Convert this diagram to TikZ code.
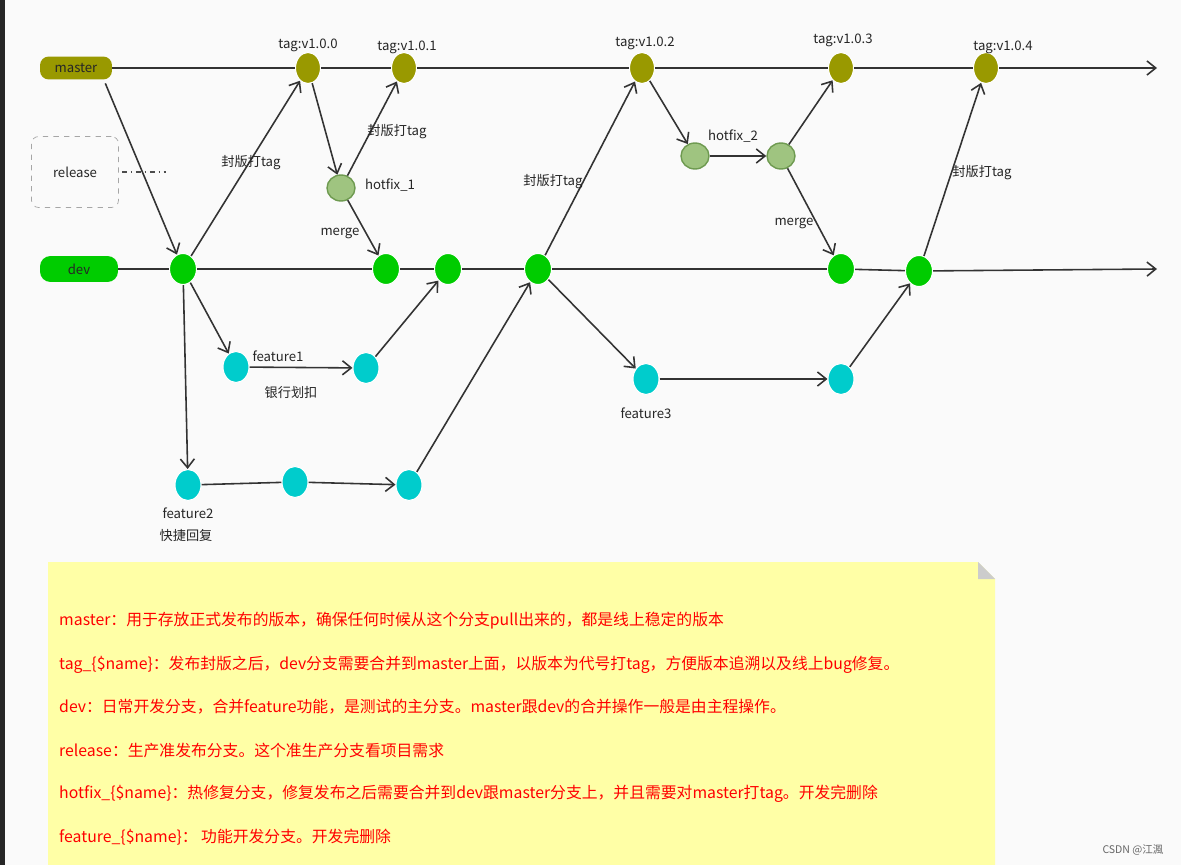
\documentclass[tikz,border=0pt]{standalone}
\usepackage{fontspec}
\setmainfont{Liberation Sans}
\newfontfamily\cjk{Noto Sans CJK SC}
\usetikzlibrary{arrows.meta,shapes.geometric}
\definecolor{olive}{HTML}{999900}
\definecolor{gr}{HTML}{00CC00}
\definecolor{cy}{HTML}{00CCCC}
\definecolor{hf}{HTML}{9FC480}
\definecolor{hfb}{HTML}{6E9A50}
\definecolor{note}{HTML}{FFFFA6}
\begin{document}
\begin{tikzpicture}[x=0.02cm,y=-0.02cm,
  lbl/.style={font=\cjk\fontsize{7.5}{9}\selectfont,text=black!85},
  mn/.style={draw=white,line width=0.6pt,fill=olive,minimum width=0.5cm,minimum height=0.62cm,shape=ellipse},
  dn/.style={draw=white,line width=0.6pt,fill=gr,minimum width=0.54cm,minimum height=0.62cm,shape=ellipse},
  fn/.style={draw=white,line width=0.6pt,fill=cy,minimum width=0.52cm,minimum height=0.62cm,shape=ellipse},
  hn/.style={draw=hfb,line width=0.8pt,fill=hf,minimum width=0.56cm,minimum height=0.52cm,shape=ellipse},
  ar/.style={draw=black!80,line width=0.9pt,-{Straight Barb[length=5pt,width=8pt]}},
  ln/.style={draw=black!80,line width=0.9pt},
  nt/.style={font=\cjk\fontsize{9}{11}\selectfont,text=red,anchor=west}]
\fill[black!85] (0,0) rectangle (1181,865);
\fill[black!2] (5,0) rectangle (1181,865);
\useasboundingbox (0,0) rectangle (1181,865);
% branch labels
\node[fill=olive,rounded corners=5pt,minimum width=1.44cm,minimum height=0.46cm,lbl] (master) at (76,68) {master};
\node[draw=black!35,dashed,rounded corners=4pt,minimum width=1.74cm,minimum height=1.42cm,lbl] (release) at (75,172) {release};
\node[fill=gr,rounded corners=6pt,minimum width=1.56cm,minimum height=0.52cm,lbl] (dev) at (79,269) {dev};
\coordinate (mend) at (1157,68);
\coordinate (dend) at (1157,269);
\coordinate (rs) at (122,172);
\coordinate (re) at (166,172);
\draw[ln,dash dot,black!70] (rs) -- (re);
% nodes
\node[mn] (m0) at (308,68) {};
\node[mn] (m1) at (404,68) {};
\node[mn] (m2) at (642,68) {};
\node[mn] (m3) at (841,68) {};
\node[mn] (m4) at (986,68) {};
\node[hn] (h1) at (341,188) {};
\node[hn] (h2a) at (695,156) {};
\node[hn] (h2b) at (781,156) {};
\node[dn] (d0) at (183,269) {};
\node[dn] (d1) at (386,269) {};
\node[dn] (d2) at (448,269) {};
\node[dn] (d3) at (538,269) {};
\node[dn] (d4) at (841,269) {};
\node[dn] (d5) at (919,271) {};
\node[fn] (f1a) at (236,367) {};
\node[fn] (f1b) at (366,368) {};
\node[fn] (f3a) at (646,379) {};
\node[fn] (f3b) at (841,379) {};
\node[fn] (f2a) at (188,485) {};
\node[fn] (f2b) at (295,482) {};
\node[fn] (f2c) at (409,485) {};
% main lines
\draw[ln] (master) -- (m0); \draw[ln] (m0) -- (m1); \draw[ln] (m1) -- (m2);
\draw[ln] (m2) -- (m3); \draw[ln] (m3) -- (m4); \draw[ar] (m4) -- (mend);
\draw[ln] (dev) -- (d0); \draw[ln] (d0) -- (d1); \draw[ln] (d1) -- (d2);
\draw[ln] (d2) -- (d3); \draw[ln] (d3) -- (d4); \draw[ln] (d4) -- (d5); \draw[ar] (d5) -- (dend);
% arrows
\draw[ar] ([xshift=-4pt,yshift=-2pt]master.south east) -- (d0);
\draw[ar] (d0) -- (m0);
\draw[ar] (m0) -- (h1);
\draw[ar] (h1) -- (m1);
\draw[ar] (h1) -- (d1);
\draw[ar] (d0) -- (f1a);
\draw[ar] (f1a) -- (f1b);
\draw[ar] (f1b) -- (d2);
\draw[ar] (d0) -- (f2a);
\draw[ln] (f2a) -- (f2b);
\draw[ar] (f2b) -- (f2c);
\draw[ar] (f2c) -- (d3);
\draw[ar] (d3) -- (m2);
\draw[ar] (m2) -- (h2a);
\draw[ar] (h2a) -- (h2b);
\draw[ar] (h2b) -- (m3);
\draw[ar] (h2b) -- (d4);
\draw[ar] (d3) -- (f3a);
\draw[ar] (f3a) -- (f3b);
\draw[ar] (f3b) -- (d5);
\draw[ar] (d5) -- (m4);
% labels
\node[lbl] (t0) at (308,45) {tag:v1.0.0};
\node[lbl] (t1) at (407,47) {tag:v1.0.1};
\node[lbl] (t2) at (645,43) {tag:v1.0.2};
\node[lbl] (t3) at (843,40) {tag:v1.0.3};
\node[lbl] (t4) at (1003,47) {tag:v1.0.4};
\node[lbl] (l1) at (251,163) {封版打tag};
\node[lbl] (l2) at (397,132) {封版打tag};
\node[lbl] (l3) at (553,182) {封版打tag};
\node[lbl] (l4) at (982,173) {封版打tag};
\node[lbl] (l5) at (390,185) {hotfix\_1};
\node[lbl] (l6) at (340,233) {merge};
\node[lbl] (l7) at (733,136) {hotfix\_2};
\node[lbl] (l8) at (794,223) {merge};
\node[lbl] (l9) at (278,356) {feature1};
\node[lbl] (l10) at (291,393) {银行划扣};
\node[lbl] (l11) at (646,413) {feature3};
\node[lbl] (l12) at (188,513) {feature2};
\node[lbl] (l13) at (186,536) {快捷回复};
% note
\fill[note] (48,562) -- (978,562) -- (995,579) -- (995,865) -- (48,865) -- cycle;
\fill[black!20] (978,562) -- (995,579) -- (978,579) -- cycle;
\node[nt] (n1) at (53,621) {master：用于存放正式发布的版本，确保任何时候从这个分支pull出来的，都是线上稳定的版本};
\node[nt] (n2) at (53,665) {tag\_\{\$name\}：发布封版之后，dev分支需要合并到master上面，以版本为代号打tag，方便版本追溯以及线上bug修复。};
\node[nt] (n3) at (53,707) {dev：日常开发分支，合并feature功能，是测试的主分支。master跟dev的合并操作一般是由主程操作。};
\node[nt] (n4) at (53,750) {release：生产准发布分支。这个准生产分支看项目需求};
\node[nt] (n5) at (53,794) {hotfix\_\{\$name\}：热修复分支，修复发布之后需要合并到dev跟master分支上，并且需要对master打tag。开发完删除};
\node[nt] (n6) at (53,837) {feature\_\{\$name\}：\ 功能开发分支。开发完删除};
\node[font=\cjk\fontsize{6}{7}\selectfont,text=black!60] (wm) at (1133,850) {CSDN @江渢};
\end{tikzpicture}
\end{document}
